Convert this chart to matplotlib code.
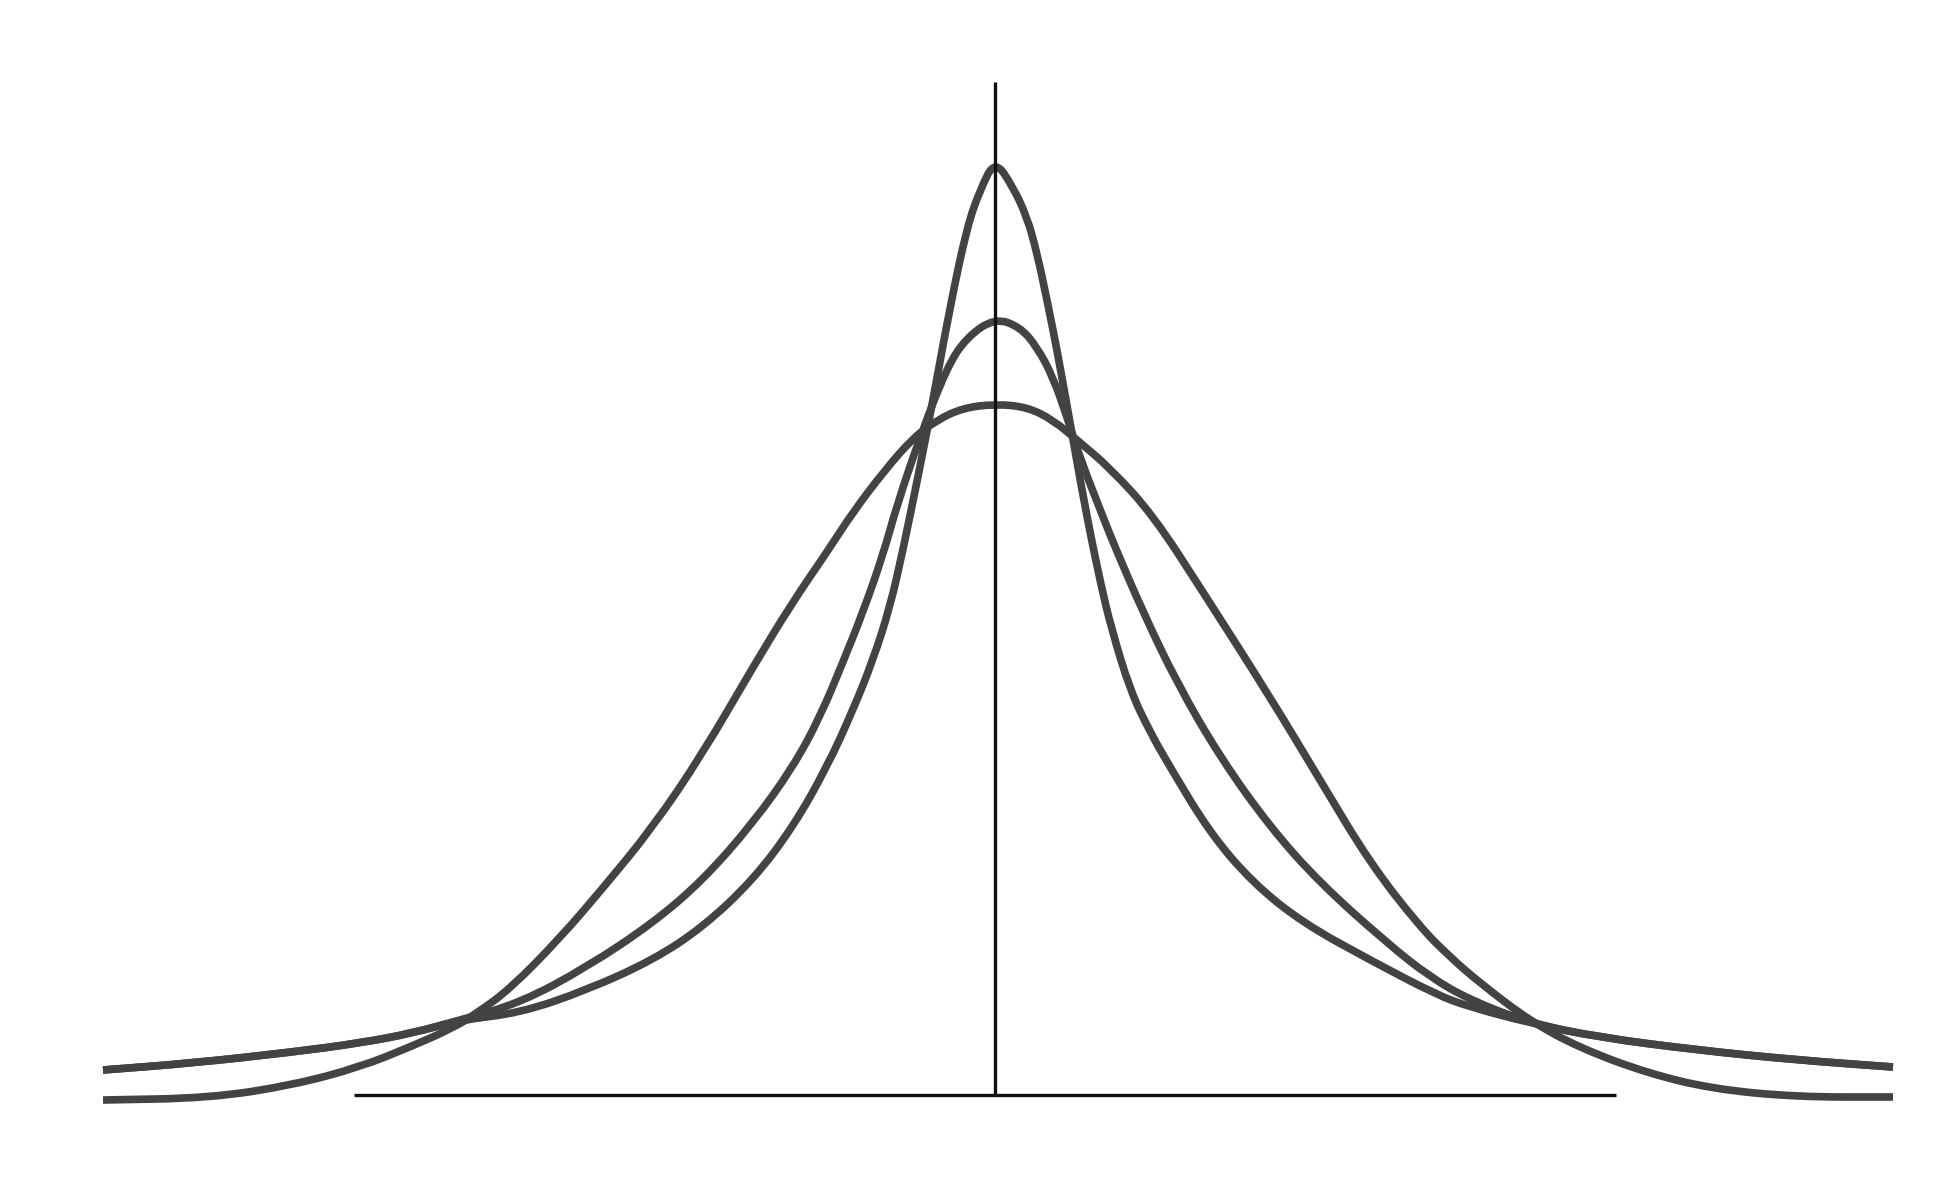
#!/usr/bin/env python3
"""Três curvas simétricas com pico comum: comparação de forma (curtose)."""

from __future__ import annotations

import matplotlib

matplotlib.use("Agg")
import matplotlib.pyplot as plt
import numpy as np
from matplotlib.patches import PathPatch
from matplotlib.path import Path

# curva larga (pico mais baixo, caudas mais finas)
WIDE_X = [-3.568, -3.14, -2.808, -2.54, -2.34, -2.168, -2.072, -1.94, -1.74, -1.568,
          -1.368, -1.168, -0.968, -0.812, -0.672, -0.568, -0.44, -0.328, -0.232, -0.128,
          0.0, 0.128, 0.232, 0.328, 0.46, 0.632, 0.832, 1.10, 1.30,
          1.50, 1.70, 1.82, 1.94, 2.14, 2.34, 2.608, 2.872, 3.208, 3.592]
WIDE_Y = [-0.005, -0.003, 0.010, 0.028, 0.048, 0.067, 0.082, 0.106, 0.157, 0.207,
          0.268, 0.342, 0.428, 0.492, 0.543, 0.583, 0.625, 0.657, 0.675, 0.687,
          0.691, 0.688, 0.675, 0.655, 0.627, 0.580, 0.503, 0.398, 0.315,
          0.232, 0.168, 0.138, 0.112, 0.074, 0.047, 0.022, 0.006, -0.002, -0.002]

# curva intermédia
MID_X = [-3.568, -3.208, -2.808, -2.54, -2.328, -2.14, -1.90, -1.632, -1.368, -1.168,
         -0.968, -0.808, -0.70, -0.608, -0.528, -0.448, -0.392, -0.30, -0.192, -0.112,
         0.0, 0.10, 0.168, 0.232, 0.288, 0.34, 0.432, 0.48, 0.592, 0.728,
         0.90, 1.10, 1.30, 1.568, 1.74, 1.90, 2.14, 2.408, 2.808, 3.208, 3.592]
MID_Y = [0.025, 0.032, 0.043, 0.052, 0.062, 0.075, 0.092, 0.128, 0.172, 0.215,
         0.272, 0.328, 0.378, 0.433, 0.483, 0.540, 0.590, 0.658, 0.728, 0.758,
         0.777, 0.768, 0.748, 0.718, 0.678, 0.637, 0.578, 0.548, 0.483, 0.412,
         0.338, 0.268, 0.212, 0.152, 0.118, 0.095, 0.072, 0.058, 0.045, 0.035, 0.028]

# curva alta (pico agudo, caudas pesadas)
TALL_X = [-3.568, -3.208, -2.808, -2.54, -2.328, -2.14, -1.90, -1.632, -1.368, -1.168,
          -0.968, -0.808, -0.672, -0.568, -0.488, -0.42, -0.368, -0.30, -0.248, -0.18,
          -0.112, -0.06, 0.0, 0.072, 0.128, 0.168, 0.208, 0.248, 0.284, 0.316,
          0.348, 0.384, 0.424, 0.464, 0.54, 0.62, 0.70, 0.86, 1.032, 1.232, 1.50,
          1.768, 1.90, 2.14, 2.408, 2.808, 3.208, 3.592]
TALL_Y = [0.025, 0.032, 0.043, 0.052, 0.062, 0.075, 0.082, 0.105, 0.135, 0.168,
          0.215, 0.268, 0.328, 0.385, 0.435, 0.488, 0.545, 0.628, 0.695, 0.788,
          0.868, 0.905, 0.935, 0.908, 0.878, 0.842, 0.795, 0.745, 0.695, 0.650,
          0.605, 0.558, 0.510, 0.468, 0.405, 0.363, 0.328, 0.262, 0.212, 0.172, 0.135,
          0.100, 0.088, 0.072, 0.058, 0.045, 0.035, 0.028]

BASE_X = [-2.564, 2.484]
AXIS_TOP = 1.013

CURVE_COLOR = "#434343"
AXIS_COLOR = "#111111"


def smooth_path(xs, ys) -> Path:
    """Traço suave: os pontos lidos servem de controlo a curvas quadráticas."""
    pts = np.column_stack([xs, ys])
    mids = (pts[:-1] + pts[1:]) / 2
    verts = [pts[0], mids[0]]
    codes = [Path.MOVETO, Path.LINETO]
    for i in range(1, len(pts) - 1):
        verts += [pts[i], mids[i]]
        codes += [Path.CURVE3, Path.CURVE3]
    verts.append(pts[-1])
    codes.append(Path.LINETO)
    return Path(verts, codes)


def main() -> None:
    fig = plt.figure(figsize=(19.47, 11.77), dpi=100)
    fig.patch.set_facecolor("white")
    ax = fig.add_axes([0, 0, 1, 1])

    for xs, ys in ((WIDE_X, WIDE_Y), (MID_X, MID_Y), (TALL_X, TALL_Y)):
        ax.add_patch(PathPatch(smooth_path(xs, ys), facecolor="none",
                               edgecolor=CURVE_COLOR, linewidth=5.5,
                               capstyle="butt", joinstyle="round"))

    ax.plot(BASE_X, [0, 0], color=AXIS_COLOR, linewidth=2.4, solid_capstyle="butt")
    ax.plot([0, 0], [0, AXIS_TOP], color=AXIS_COLOR, linewidth=2.4, solid_capstyle="butt")

    ax.set_xlim(-3.98, 3.808)
    ax.set_ylim(-0.082, 1.095)
    ax.axis("off")

    fig.savefig("out.png", dpi=100, facecolor="white")
    plt.close(fig)


if __name__ == "__main__":
    main()
